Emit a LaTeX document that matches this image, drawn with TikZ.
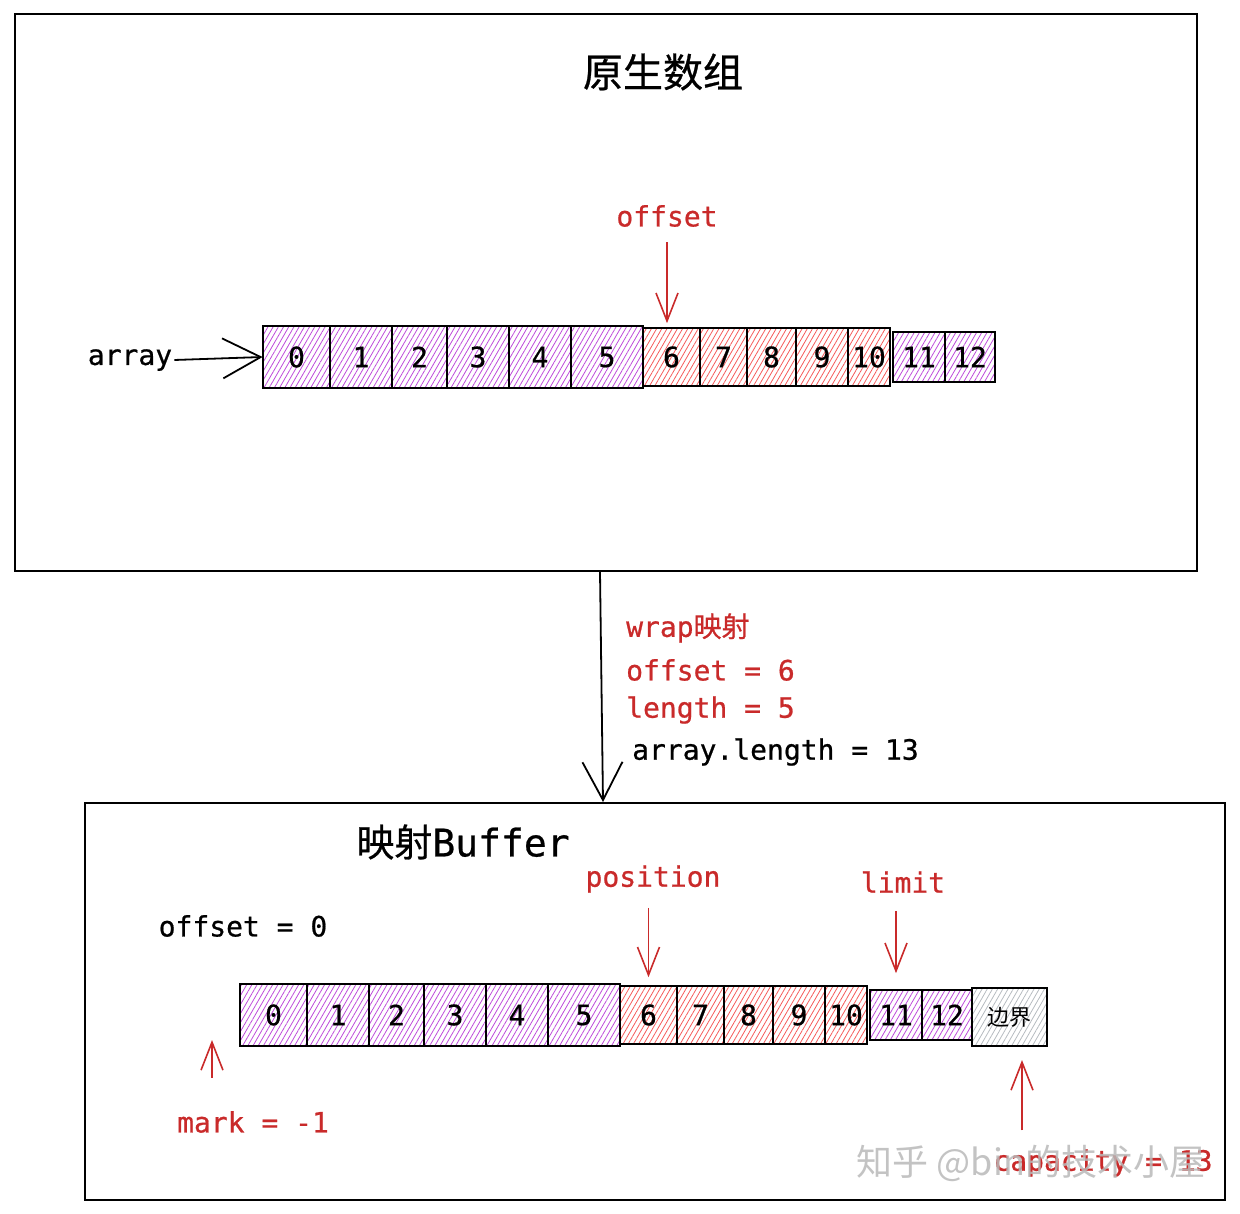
\documentclass[tikz,border=0pt]{standalone}
\usepackage{fontspec}
\setmonofont[FakeBold=0.7]{DejaVu Sans Mono}
\newfontfamily\cjk{Noto Sans CJK SC}
\newfontfamily\cjkm[FakeBold=0.7]{Noto Sans CJK SC}
\usetikzlibrary{positioning, arrows.meta, patterns.meta}
\definecolor{cvio}{RGB}{190,75,219}
\definecolor{cred}{RGB}{245,90,90}
\definecolor{cgrey}{RGB}{134,142,150}
\definecolor{ctext}{RGB}{201,42,42}
\newcommand\fsz[1]{\fontsize{#1}{#1}\selectfont}
\tikzset{boxframe/.style={draw, line width=2pt, inner sep=0pt},
         cellbox/.style={draw, line width=1.6pt, inner sep=0pt, font=\ttfamily\fsz{28},
                         pattern={Lines[angle=60,distance=4.5pt,line width=0.8pt]}},
         txt/.style={font=\ttfamily\fsz{28}, inner sep=2pt},
         redtxt/.style={txt, text=ctext},
         redbarb/.style={draw=ctext, line width=1.6pt, -{Straight Barb[length=28pt,width=22pt]}},
         bigbarb/.style={line width=1.8pt, -{Straight Barb[length=38pt,width=40pt]}}}

\begin{document}
\begin{tikzpicture}[x=1pt, y=-1pt]
        \useasboundingbox (0,0) rectangle (1240,1214);

        % Frames
        \node[boxframe, minimum width=1182pt, minimum height=557pt] (rawbox) at (606,292.5) {};
        \node[boxframe, minimum width=1140pt, minimum height=397pt] (bufbox) at (655,1001.5) {};
        \node[font=\cjkm\fsz{40}] (rawtitle) at (663,72) {原生数组};
        \node[font=\fsz{38}] (buftitle) at (463,842) {{\cjkm 映射}\texttt{Buffer}};

        % Cells, top row and bottom row
        \foreach \row/\dx/\dy in {t/0/0, b/-23/658} {
          \foreach \i/\l/\r/\col/\h in {0/263/330/cvio/62, 1/330/392/cvio/62, 2/392/447/cvio/62,
                                        3/447/509/cvio/62, 4/509/571/cvio/62, 5/571/643/cvio/62,
                                        6/643/700/cred/58, 7/700/747/cred/58, 8/747/796/cred/58,
                                        9/796/848/cred/58, 10/848/890/cred/58,
                                        11/893/945/cvio/50, 12/945/995/cvio/50} {
            \pgfmathsetmacro\w{\r-\l}
            \pgfmathsetmacro\cx{(\l+\r)/2+\dx}
            \pgfmathsetmacro\cy{357+\dy}
            \node[cellbox, pattern color=\col, minimum width=\w pt, minimum height=\h pt] (\row\i) at (\cx,\cy) {\i};
          }
        }
        \node[cellbox, pattern color=cgrey!60, minimum width=75pt, minimum height=58pt,
              font=\cjk\fsz{22}] (b13) at (1009.5,1017) {边界};

        % Top labels
        \node[txt] (arrlbl) at (130,360) {array};
        \draw[bigbarb] (arrlbl.east) -- (t0.west);
        \node[redtxt] (offtop) at (667,216) {offset};
        \draw[redbarb, shorten <=13pt, shorten >=4pt] (offtop.south) -- (offtop.south |- t6.north);

        % Mapping arrow
        \draw[bigbarb] ([xshift=-6pt]rawbox.south) -- ([xshift=-52pt]bufbox.north);
        \node[redtxt, anchor=west] (wraplbl) at (624,628) {wrap{\cjkm 映射}};
        \node[redtxt, anchor=west] (offlbl) at (624,670) {offset = 6};
        \node[redtxt, anchor=west] (lenlbl) at (624,710) {length = 5};
        \node[txt, anchor=west] (arrlen) at (630,752) {array.length = 13};

        % Bottom labels
        \node[redtxt] (poslbl) at (653,879) {position};
        \node[redtxt] (limlbl) at (903,882) {limit};
        \node[txt] (off0) at (243,926) {offset = 0};
        \node[redtxt] (marklbl) at (253,1122) {mark = -1};
        \node[redtxt] (caplbl) at (1103,1163) {capacity = 13};
        \coordinate (marktip) at (212,1040);
        \coordinate (captip) at (1022,1060);
        \draw[redbarb, shorten <=13pt, shorten >=8pt] (b6.north |- poslbl.south) -- (b6.north);
        \draw[redbarb, shorten <=16pt, shorten >=16pt] (b11.north |- limlbl.south) -- (b11.north);
        \draw[redbarb, shorten <=31pt] (marklbl.north -| marktip) -- (marktip);
        \draw[redbarb, shorten <=17pt] (caplbl.north -| captip) -- (captip);

        % Watermark
        \node[font=\cjk\fsz{36}, text=gray!55, opacity=0.85] (wmark) at (1031,1163) {知乎 @bin的技术小屋};

    \end{tikzpicture}
\end{document}
